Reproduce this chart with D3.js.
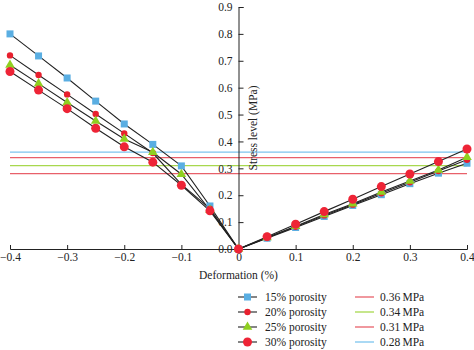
<!DOCTYPE html>
<html>
<head>
<meta charset="utf-8">
<script src="https://cdn.jsdelivr.net/npm/d3@7"></script>
<style>
  body { margin: 0; background: #fff; }
  svg text { font-family: "Liberation Serif", "DejaVu Serif", serif; fill: #222; }
</style>
</head>
<body>
<div id="chart"></div>
<script>
const xs = [-0.4, -0.35, -0.3, -0.25, -0.2, -0.15, -0.1, -0.05, 0, 0.05, 0.1, 0.15, 0.2, 0.25, 0.3, 0.35, 0.4];
const p15 = [0.80, 0.718, 0.636, 0.55, 0.465, 0.389, 0.309, 0.16, 0, 0.04, 0.08, 0.121, 0.162, 0.202, 0.243, 0.282, 0.319];
const p20 = [0.72, 0.647, 0.575, 0.502, 0.43, 0.357, 0.24, 0.15, 0, 0.042, 0.083, 0.125, 0.165, 0.207, 0.248, 0.29, 0.332];
const p25 = [0.684, 0.615, 0.545, 0.476, 0.409, 0.36, 0.278, 0.145, 0, 0.043, 0.085, 0.128, 0.168, 0.212, 0.253, 0.294, 0.341];
const p30 = [0.66, 0.591, 0.522, 0.449, 0.38, 0.323, 0.237, 0.142, 0, 0.046, 0.092, 0.139, 0.185, 0.232, 0.279, 0.325, 0.372];
const refVals = [0.36, 0.34, 0.31, 0.28];
const refColors = ["#7cc4ee", "#e8606a", "#a8d84e", "#e8606a"];
const legendRef = ["0.36\u2009MPa", "0.34\u2009MPa", "0.31\u2009MPa", "0.28\u2009MPa"];
const legendRefColors = ["#e8606a", "#a8d84e", "#e8606a", "#7cc4ee"];
const xTicks = [-0.4, -0.3, -0.2, -0.1, 0, 0.1, 0.2, 0.3, 0.4];
const yTicks = [0, 0.1, 0.2, 0.3, 0.4, 0.5, 0.6, 0.7, 0.8, 0.9];

const series = [
    {name: "15% porosity", vals: p15, color: "#5aaee2", shape: "square"},
    {name: "20% porosity", vals: p20, color: "#e8202e", shape: "dot"},
    {name: "25% porosity", vals: p25, color: "#8fd020", shape: "tri"},
    {name: "30% porosity", vals: p30, color: "#ee2436", shape: "circle"},
];

const width = 474, height = 350;
const svg = d3.select("#chart").append("svg")
    .attr("width", width).attr("height", height);

const x = d3.scaleLinear().domain([-0.4, 0.4]).range([10, 467]);
const y = d3.scaleLinear().domain([0, 0.9]).range([249, 7]);

// reference lines
svg.selectAll(".ref").data(refVals).join("line")
    .attr("x1", x(-0.4)).attr("x2", x(0.4))
    .attr("y1", d => y(d)).attr("y2", d => y(d))
    .attr("stroke", (d, i) => refColors[i]).attr("stroke-width", 1.3);

// x axis
const xAxis = svg.append("g").attr("transform", `translate(0,${y(0)})`)
    .call(d3.axisBottom(x).tickValues(xTicks).tickSize(-4).tickPadding(4)
        .tickFormat(d => d === 0 ? "0" : d3.format(".1f")(d).replace("-", "\u2212")));
xAxis.select(".domain").attr("stroke", "#222");
xAxis.selectAll(".tick line").attr("stroke", "#222");
xAxis.selectAll("text").style("font-size", "11.5px").attr("fill", "#222");

// y axis
const yAxis = svg.append("g").attr("transform", `translate(${x(0)},0)`)
    .call(d3.axisLeft(y).tickValues(yTicks).tickSize(-5).tickPadding(6).tickFormat(d3.format(".1f")));
yAxis.select(".domain").attr("stroke", "#222");
yAxis.selectAll(".tick line").attr("stroke", "#222");
yAxis.selectAll("text").style("font-size", "11.5px").attr("fill", "#222");

svg.append("text").attr("transform", `translate(${x(0) + 18},128) rotate(-90)`)
    .attr("text-anchor", "middle").style("font-size", "11.5px").text("Stress level (MPa)");
svg.append("text").attr("x", x(0)).attr("y", 279)
    .attr("text-anchor", "middle").style("font-size", "11.5px").text("Deformation (%)");

function drawMarker(g, shape, color) {
    if (shape === "square") {
        g.append("rect").attr("x", -3.5).attr("y", -3.5).attr("width", 7).attr("height", 7).attr("fill", color);
    } else if (shape === "dot") {
        g.append("circle").attr("r", 3.2).attr("fill", color);
    } else if (shape === "tri") {
        g.append("path").attr("d", d3.symbol(d3.symbolTriangle, 40)()).attr("fill", color);
    } else {
        g.append("circle").attr("r", 4.5).attr("fill", color);
    }
}

const line = d3.line().x((d, i) => x(xs[i])).y(d => y(d));

series.forEach(s => {
    svg.append("path").datum(s.vals)
        .attr("d", line).attr("fill", "none")
        .attr("stroke", "#222").attr("stroke-width", 1.1);
});
series.forEach(s => {
    s.vals.forEach((v, i) => {
        const g = svg.append("g").attr("transform", `translate(${x(xs[i])},${y(v)})`);
        drawMarker(g, s.shape, s.color);
    });
});

// legend
const lg = svg.append("g");
series.forEach((s, i) => {
    const yy = 297 + i * 15;
    lg.append("line").attr("x1", 238).attr("x2", 257).attr("y1", yy).attr("y2", yy)
        .attr("stroke", "#222").attr("stroke-width", 1.1);
    drawMarker(lg.append("g").attr("transform", `translate(247.5,${yy})`), s.shape, s.color);
    lg.append("text").attr("x", 265).attr("y", yy + 4).style("font-size", "11.5px").text(s.name);
});
legendRef.forEach((t, i) => {
    const yy = 297 + i * 15;
    lg.append("line").attr("x1", 355).attr("x2", 374).attr("y1", yy).attr("y2", yy)
        .attr("stroke", legendRefColors[i]).attr("stroke-width", 1.3);
    lg.append("text").attr("x", 380).attr("y", yy + 4).style("font-size", "11.5px").text(t);
});
</script>
</body>
</html>
